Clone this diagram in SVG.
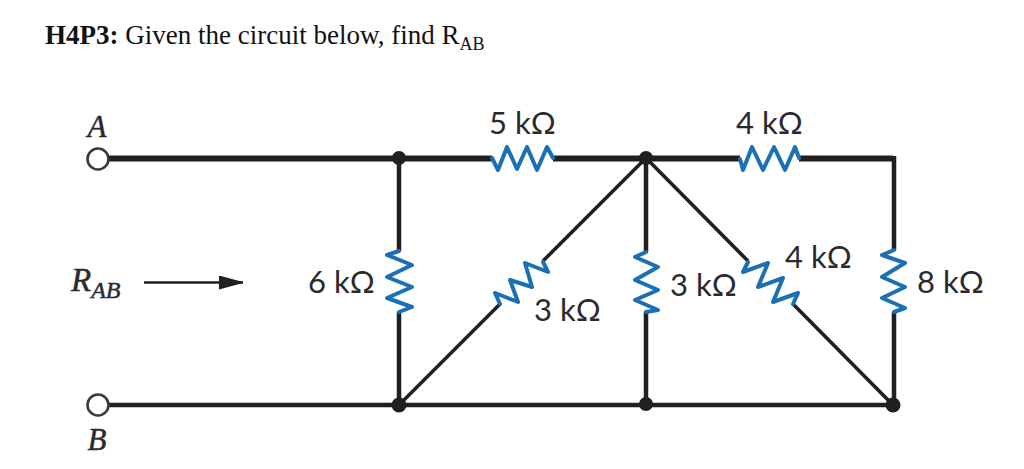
<svg xmlns="http://www.w3.org/2000/svg" width="1024" height="469" viewBox="0 0 1024 469">
<style>
.w{fill:none;stroke:#231f20;stroke-linecap:butt;stroke-linejoin:round}
.r{fill:none;stroke:#1a6fb5;stroke-width:4;stroke-linejoin:round;stroke-linecap:round}
.d{fill:#231f20}
.o{fill:#fff;stroke:#3a3a3a;stroke-width:2.6}
.v{font-family:"Lato","Liberation Sans",sans-serif;font-size:31px;fill:#2a2a2e}
.i{font-family:"Liberation Serif","Times New Roman",serif;font-style:italic;font-size:33px;fill:#2a2a2e;stroke:#2a2a2e;stroke-width:.5}
.t{font-family:"Liberation Serif","Times New Roman",serif;font-size:27px;fill:#111}
</style>
<defs><marker id="ah" markerUnits="userSpaceOnUse" markerWidth="24" markerHeight="14" refX="24" refY="7" orient="auto"><path d="M0 0L24 6.5V7.5L0 14Z" fill="#231f20"/></marker></defs>
<rect width="1024" height="469" fill="#fff"/>
<text id="title" class="t" x="45" y="44"><tspan font-weight="bold">H4P3:</tspan> Given the circuit below, find R<tspan font-size="18" dy="6">AB</tspan></text>
<g id="connectors">
<path class="w" stroke-width="6" d="M108 158.500H492M553 158.500H740M799 158.500H893"/>
<path class="w" stroke-width="4.500" d="M108 405H893"/>
<path class="w" stroke-width="4.500" d="M399 158V251M399 312V405M646 158V252M646 312V405M894 156V250M894 312V405"/>
<path class="w" stroke-width="3.600" d="M646 158L543 261M500 304L399 405M646 158L748 261M793 304L893 405"/>
<path class="w" stroke-width="2.500" marker-end="url(#ah)" d="M144 282.500H243"/>
</g>
<g id="R5k"><path class="r" d="M492 158L498 170L507 147L517 169L527 147L537 170L547 147L553 158"/><text class="v" x="489" y="134">5 kΩ</text></g>
<g id="R4k-top"><path class="r" d="M740 159L743 170L752 147L763 170L774 147L785 170L795 147L799 158"/><text class="v" x="736" y="134">4 kΩ</text></g>
<g id="R6k"><path class="r" d="M399 251L387 255L412 265L387 277L412 287L387 298L412 307L399 312"/><text class="v" x="308" y="293">6 kΩ</text></g>
<g id="R3k-diag"><path class="r" d="M543 262L548 272L525 263L532 287L510 280L518 302L495 293L500 304"/><text class="v" x="534" y="321">3 kΩ</text></g>
<g id="R3k-mid"><path class="r" d="M646 252L635 257L658 267L635 280L658 290L635 300L658 310L646 312"/><text class="v" x="670" y="296">3 kΩ</text></g>
<g id="R4k-diag"><path class="r" d="M748 262L743 272L768 263L758 287L783 278L773 302L798 293L793 304"/><text class="v" x="785" y="268">4 kΩ</text></g>
<g id="R8k"><path class="r" d="M894 250L882 255L905 263L882 277L905 287L882 298L905 308L894 312"/><text class="v" x="917" y="293">8 kΩ</text></g>
<g id="nodeA"><circle class="o" cx="98" cy="159" r="10.500"/><text class="i" x="97" y="137" text-anchor="middle" font-size="31" style="font-size:31px">A</text></g>
<g id="nodeB"><circle class="o" cx="98" cy="405" r="10.500"/><text class="i" x="97" y="450" text-anchor="middle" style="font-size:31px">B</text></g>
<g id="rab"><text class="i" x="71" y="291">R<tspan font-size="24" dy="7">AB</tspan></text></g>
<g id="junctions">
<circle class="d" cx="399" cy="158" r="7"/><circle class="d" cx="399" cy="405" r="7.500"/><circle class="d" cx="646" cy="158" r="7"/><circle class="d" cx="646" cy="404" r="7"/><circle class="d" cx="893" cy="405" r="7.500"/>
</g>
</svg>
